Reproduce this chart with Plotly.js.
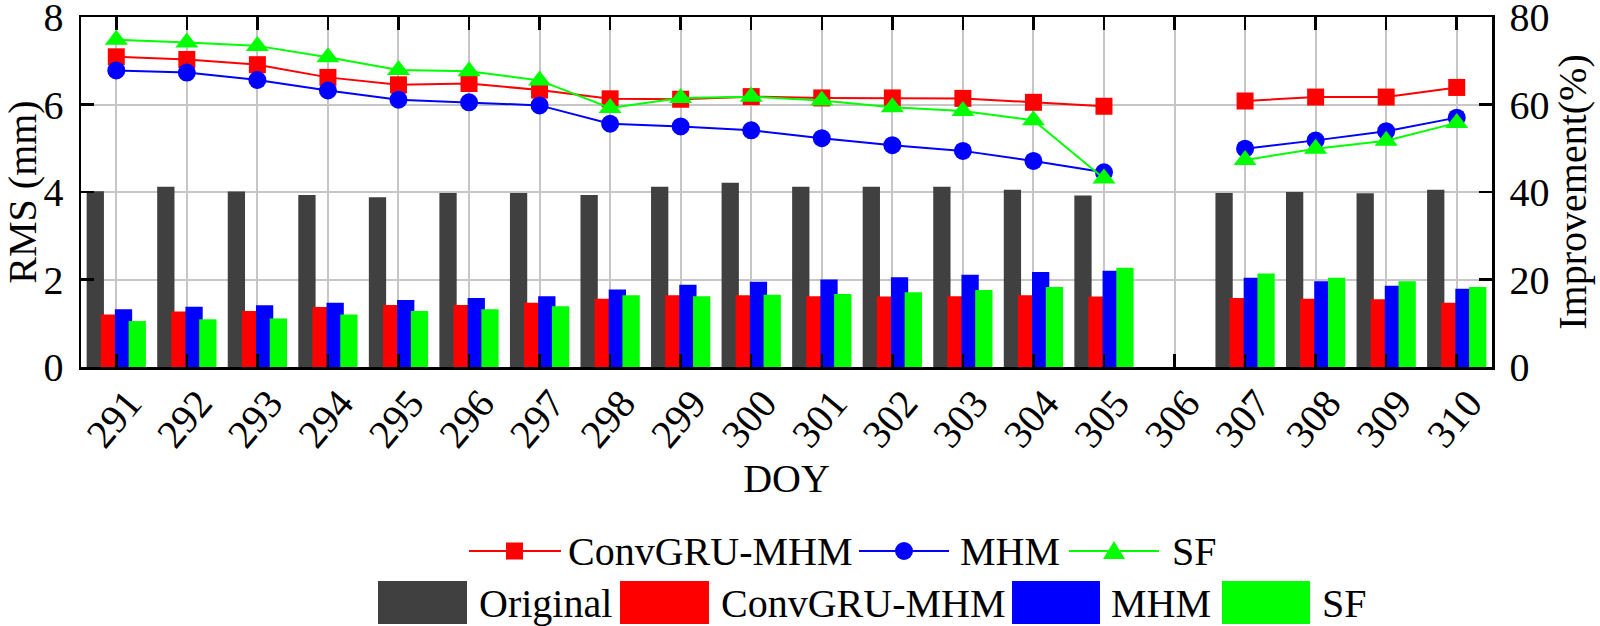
<!DOCTYPE html>
<html>
<head>
<meta charset="utf-8">
<script src="https://cdn.plot.ly/plotly-3.0.1.min.js"></script>
<style>
  html, body { margin: 0; padding: 0; background: #fff; }
  #chart { width: 1600px; height: 626px; }
  #chart svg text { font-family: "Liberation Serif", "Times New Roman", serif !important; }
</style>
</head>
<body>
<div id="chart"></div>
<script>
// Day of year (306 has no data)
const doy = ['291','292','293','294','295','296','297','298','299','300',
             '301','302','303','304','305','306','307','308','309','310'];

// RMS (mm), bars on the left axis
const rmsOriginal = [4.02,4.12,4.01,3.93,3.88,3.98,3.98,3.93,4.12,4.21,4.12,4.12,4.12,4.05,3.92,null,3.98,4.00,3.97,4.05];
const rmsConvGRU  = [1.20,1.27,1.28,1.37,1.42,1.42,1.47,1.56,1.64,1.64,1.62,1.61,1.62,1.64,1.61,null,1.58,1.56,1.55,1.47];
const rmsMHM      = [1.32,1.38,1.41,1.47,1.53,1.58,1.62,1.77,1.88,1.95,2.00,2.05,2.11,2.17,2.20,null,2.04,1.96,1.86,1.79];
const rmsSF       = [1.05,1.09,1.11,1.20,1.28,1.32,1.39,1.64,1.62,1.65,1.67,1.71,1.76,1.83,2.27,null,2.14,2.04,1.96,1.83];

// Improvement (%), lines on the right axis
const impConvGRU = [70.9,70.3,69.1,66.2,64.5,64.8,63.3,61.3,61.2,61.8,61.5,61.5,61.4,60.5,59.6,null,60.8,61.7,61.7,63.9];
const impMHM     = [67.8,67.3,65.6,63.2,61.1,60.5,59.8,55.6,55.0,54.1,52.3,50.7,49.4,47.1,44.5,null,49.9,51.8,53.9,57.0];
const impSF      = [74.8,74.2,73.4,70.8,67.9,67.6,65.5,59.2,61.5,61.8,60.9,59.4,58.5,56.4,43.1,null,47.3,49.9,51.7,55.8];

const seriesNames = ['Original', 'ConvGRU-MHM', 'MHM', 'SF'];

const GRAY = '#404040', RED = '#ff0000', BLUE = '#0000ff', GREEN = '#00ff00';
const FONT = 'Liberation Serif';

// bars: overlapping, later series drawn on top
const barW = 0.245;
function barTrace(y, name, color, offset) {
  return {
    type: 'bar', x: doy, y: y, name: name, showlegend: false,
    marker: { color: color, line: { width: 0 } },
    width: barW, offset: offset, xaxis: 'x', yaxis: 'y'
  };
}
function lineTrace(y, name, color, symbol, size) {
  return {
    type: 'scatter', mode: 'lines+markers', x: doy, y: y, name: name, showlegend: false,
    line: { color: color, width: 2 }, connectgaps: false,
    marker: { color: color, symbol: symbol, size: size, line: { width: 0 } },
    xaxis: 'x', yaxis: 'y2'
  };
}

const data = [
  barTrace(rmsOriginal, seriesNames[0], GRAY, -0.42),
  barTrace(rmsConvGRU, seriesNames[1], RED, -0.22),
  barTrace(rmsMHM, seriesNames[2], BLUE, -0.02),
  barTrace(rmsSF, seriesNames[3], GREEN, 0.175),
  lineTrace(impConvGRU, seriesNames[1], RED, 'square', 17),
  lineTrace(impMHM, seriesNames[2], BLUE, 'circle', 18),
  lineTrace(impSF, seriesNames[3], GREEN, 'triangle-up', 20)
];

// plot area in pixels
const L = 81, R = 1492, T = 17, B = 367;
const px = x => (x - L) / (R - L);
const py = y => (B - y) / (B - T);

// hand-built legend: line rows and bar swatches
const shapes = [];
const annotations = [];
function legendText(x, y, text) {
  annotations.push({ xref: 'paper', yref: 'paper', x: px(x), y: py(y), xanchor: 'left', yanchor: 'middle',
    text: text, showarrow: false, font: { family: FONT, size: 40, color: '#000' }, borderpad: 0 });
}
function lineKey(x0, x1, y, color) {
  shapes.push({ type: 'line', xref: 'paper', yref: 'paper', x0: px(x0), x1: px(x1), y0: py(y), y1: py(y),
    line: { color: color, width: 2 } });
}
const rowA = 551, rowB = 603;
lineKey(469, 561, rowA, RED);
shapes.push({ type: 'rect', xref: 'paper', yref: 'paper', x0: px(506), x1: px(523), y0: py(rowA + 8.5), y1: py(rowA - 8.5),
  fillcolor: RED, line: { width: 0 } });
legendText(567, rowA, seriesNames[1]);
lineKey(859, 949, rowA, BLUE);
shapes.push({ type: 'circle', xref: 'paper', yref: 'paper', x0: px(895), x1: px(913), y0: py(rowA + 9), y1: py(rowA - 9),
  fillcolor: BLUE, line: { width: 0 } });
legendText(959, rowA, seriesNames[2]);
lineKey(1069, 1159, rowA, GREEN);
shapes.push({ type: 'path', xref: 'paper', yref: 'paper',
  path: 'M' + px(1103) + ',' + py(rowA + 8) + ' L' + px(1125) + ',' + py(rowA + 8) + ' L' + px(1114) + ',' + py(rowA - 10) + ' Z',
  fillcolor: GREEN, line: { width: 0 } });
legendText(1171, rowA, seriesNames[3]);

function boxKey(x0, x1, color) {
  shapes.push({ type: 'rect', xref: 'paper', yref: 'paper', x0: px(x0), x1: px(x1), y0: py(624), y1: py(581),
    fillcolor: color, line: { width: 0 } });
}
boxKey(378, 467, GRAY);  legendText(478, rowB, seriesNames[0]);
boxKey(620, 709, RED);   legendText(720, rowB, seriesNames[1]);
boxKey(1012, 1100, BLUE); legendText(1110, rowB, seriesNames[2]);
boxKey(1222, 1310, GREEN); legendText(1321, rowB, seriesNames[3]);

const tickFont = { family: FONT, size: 40, color: '#000' };
const layout = {
  width: 1600, height: 626,
  margin: { l: L, r: 1600 - R, t: T, b: 626 - B, pad: 0 },
  paper_bgcolor: '#fff', plot_bgcolor: '#fff',
  font: { family: FONT, color: '#000' },
  barmode: 'overlay',
  showlegend: false,
  xaxis: {
    type: 'category', categoryorder: 'array', categoryarray: doy,
    range: [-0.5, 19.5], fixedrange: true,
    showline: true, linecolor: '#000', linewidth: 2.5, mirror: 'ticks',
    ticks: 'inside', ticklen: 13, tickwidth: 2.5, tickcolor: '#000',
    showgrid: true, gridcolor: '#c6c6c6', gridwidth: 2,
    tickangle: -50, tickfont: tickFont, ticklabelshift: 12, ticklabelstandoff: -6,
    title: { text: 'DOY', font: { family: FONT, size: 40, color: '#000' }, standoff: 2 },
    automargin: false, zeroline: false
  },
  yaxis: {
    range: [0, 8], dtick: 2, tick0: 0, fixedrange: true,
    showline: true, linecolor: '#000', linewidth: 2.5,
    ticks: 'inside', ticklen: 13, tickwidth: 2.5, tickcolor: '#000',
    showgrid: true, gridcolor: '#c6c6c6', gridwidth: 2, zeroline: false,
    tickfont: tickFont, ticklabelstandoff: 7, ticklabeloverflow: 'allow',
    title: { text: 'RMS (mm)', font: { family: FONT, size: 40, color: '#000' }, standoff: 6 },
    automargin: false
  },
  yaxis2: {
    overlaying: 'y', side: 'right', range: [0, 80], dtick: 20, tick0: 0, fixedrange: true,
    showline: true, linecolor: '#000', linewidth: 2.5,
    ticks: 'inside', ticklen: 13, tickwidth: 2.5, tickcolor: '#000',
    showgrid: false, zeroline: false,
    tickfont: tickFont, ticklabelstandoff: 7, ticklabeloverflow: 'allow',
    title: { text: 'Improvement(%)', font: { family: FONT, size: 40, color: '#000' }, standoff: 6 },
    automargin: false
  },
  shapes: shapes,
  annotations: annotations
};

Plotly.newPlot('chart', data, layout, { displayModeBar: false, staticPlot: true });
</script>
</body>
</html>
